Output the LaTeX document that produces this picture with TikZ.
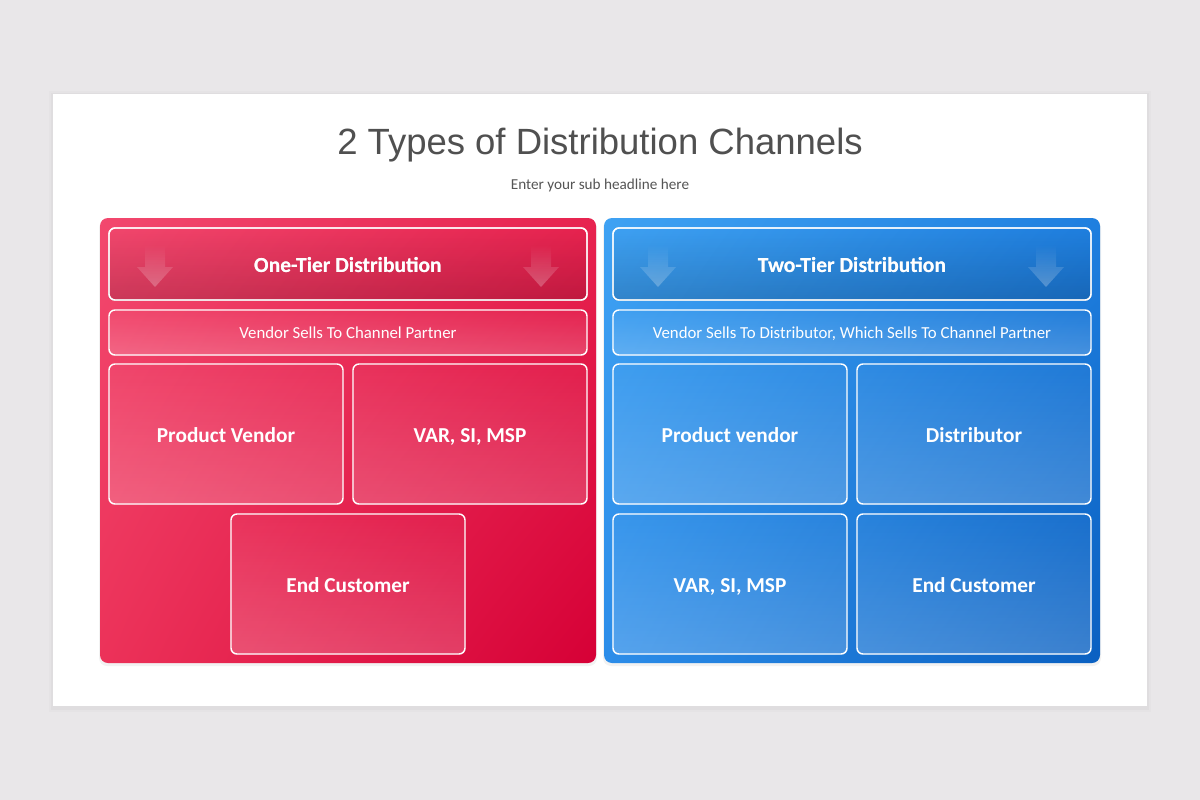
\documentclass[tikz,border=0pt]{standalone}
\usepackage{fontspec}
\setmainfont{Carlito}
\newfontfamily\titlefont{Liberation Sans}
\usetikzlibrary{fadings,shadings}
\definecolor{bgcol}{HTML}{E9E7E9}
\definecolor{titlecol}{HTML}{505050}
\definecolor{subcol}{HTML}{555555}
\definecolor{rUL}{HTML}{F2486E}
\definecolor{rUR}{HTML}{E7234F}
\definecolor{rLL}{HTML}{EC3259}
\definecolor{rLR}{HTML}{D60036}
\definecolor{bUL}{HTML}{3FA2F3}
\definecolor{bUR}{HTML}{1F7FDF}
\definecolor{bLL}{HTML}{2C8DE9}
\definecolor{bLR}{HTML}{0A60C1}
\tikzfading[name=boxfade, top color=transparent!97, bottom color=transparent!80]
\tikzfading[name=headfade, top color=transparent!100, bottom color=transparent!84]
\tikzfading[name=arrowfade, top color=transparent!100, bottom color=transparent!74]
\tikzset{
  panel/.style={minimum width=496pt, minimum height=445pt, rounded corners=8pt, inner sep=0pt},
  redpanel/.style={panel, shade, upper left=rUL, upper right=rUR, lower left=rLL, lower right=rLR},
  bluepanel/.style={panel, shade, upper left=bUL, upper right=bUR, lower left=bLL, lower right=bLR},
  box/.style={draw=white, line width=1.4pt, rounded corners=6pt, text=white, inner sep=0pt, text depth=0pt},
  headbox/.style={box, minimum width=478pt, minimum height=72pt, text height=16.6pt, font=\bfseries\fontsize{21.5}{24}\selectfont},
  subbox/.style={box, minimum width=478pt, minimum height=45pt, text height=12.6pt, font=\fontsize{16.8}{19}\selectfont},
  cellbox/.style={box, minimum width=234pt, minimum height=140pt, text height=16.5pt, font=\bfseries\fontsize{21.3}{24}\selectfont},
  arrowshape/.style={white, path fading=arrowfade},
}
\newcommand{\hdarrow}[1]{%
  \begin{scope}[shift={(#1)}]
    \fill[arrowshape] (-10,0) -- (10,0) -- (10,22) -- (18,22) -- (0,42) -- (-18,22) -- (-10,22) -- cycle;
  \end{scope}}
\begin{document}
\begin{tikzpicture}[x=1pt,y=-1pt]
\fill[bgcol] (0,0) rectangle (1200,800);
\useasboundingbox (0,0) rectangle (1200,800);
% card with soft shadow
\fill[black, opacity=0.015] (49,91) rectangle (1151,712);
\fill[black, opacity=0.025] (51,93) rectangle (1149,710);
\node[fill=white, minimum width=1094pt, minimum height=612pt, inner sep=0pt] (card) at (600,400) {};
\node[font=\titlefont\fontsize{36.5}{40}\selectfont, text=titlecol] (title) at (600,145) {2 Types of Distribution Channels};
\node[font=\fontsize{15.2}{17}\selectfont, text=subcol] (subtitle) at (600,185.5) {Enter your sub headline here};
% panel shadows
\fill[black, opacity=0.05, rounded corners=8pt] (99,220) rectangle (597,666);
\fill[black, opacity=0.05, rounded corners=8pt] (603,220) rectangle (1101,666);
\node[redpanel] (lp) at (348,440.5) {};
\node[bluepanel] (rp) at (852,440.5) {};
% left panel content
\node[headbox] (lh) at (348,264) {One-Tier Distribution};
\node[subbox] (ls) at (348,332.5) {Vendor Sells To Channel Partner};
\node[cellbox] (lpv) at (226,434) {Product Vendor};
\node[cellbox] (lvar) at (470,434) {VAR, SI, MSP};
\node[cellbox] (lec) at (348,584) {End Customer};
% right panel content
\node[headbox] (rh) at (852,264) {Two-Tier Distribution};
\node[subbox] (rs) at (852,332.5) {Vendor Sells To Distributor, Which Sells To Channel Partner};
\node[cellbox] (rpv) at (730,434) {Product vendor};
\node[cellbox] (rdi) at (974,434) {Distributor};
\node[cellbox] (rvar) at (730,584) {VAR, SI, MSP};
\node[cellbox] (rec) at (974,584) {End Customer};
% translucent overlays
\foreach \n in {ls,lpv,lvar,lec,rs,rpv,rdi,rvar,rec}{
  \fill[white, path fading=boxfade, rounded corners=6pt] (\n.north west) rectangle (\n.south east);
}
\foreach \n in {lh,rh}{
  \fill[black, path fading=headfade, rounded corners=6pt] (\n.north west) rectangle (\n.south east);
}
% header arrows
\hdarrow{155,245}
\hdarrow{541,245}
\hdarrow{658,245}
\hdarrow{1046,245}
% redraw borders and text on top
\foreach \n/\t in {lh/One-Tier Distribution, rh/Two-Tier Distribution}{
  \node[headbox] at (\n) {\t};
}
\end{tikzpicture}
\end{document}
